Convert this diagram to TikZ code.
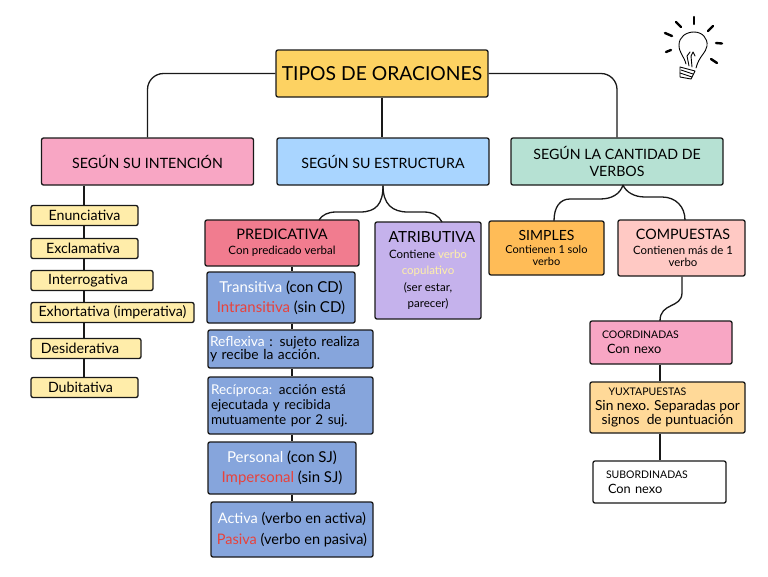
\documentclass[tikz,border=0pt]{standalone}
\usepackage{fontspec}
\setmainfont{Lato}
\usetikzlibrary{positioning,calc}
\definecolor{titleyellow}{HTML}{FDD262}
\definecolor{softpink}{HTML}{F8A6C4}
\definecolor{softblue}{HTML}{A9D5FF}
\definecolor{softgreen}{HTML}{B6E1D3}
\definecolor{cream}{HTML}{FFEDAA}
\definecolor{softred}{HTML}{F17C8F}
\definecolor{lilac}{HTML}{C5B2EC}
\definecolor{periwinkle}{HTML}{86A5DC}
\definecolor{softorange}{HTML}{FFBC57}
\definecolor{rose}{HTML}{FFC9C4}
\definecolor{sand}{HTML}{FFD998}
\definecolor{redtext}{HTML}{E8423B}
\definecolor{paleyellow}{HTML}{FFF0A8}
\newcommand{\fs}[1]{\fontsize{#1}{#1}\selectfont}
\tikzset{
  box/.style={draw=black!90, line width=1.3pt, rounded corners=2pt, inner sep=0pt, align=center},
  link/.style={draw=black!90, line width=1.3pt},
  listbox/.style={box, fill=cream, minimum height=20pt, font=\fs{14.2}},
  headbox/.style={box, minimum width=212pt, minimum height=47pt, font=\fs{14.2}},
  bluebox/.style={box, fill=periwinkle, font=\fs{15}}
}
\begin{document}
\begin{tikzpicture}[x=1pt,y=-1pt]
\useasboundingbox (0,0) rectangle (768,576);

% --- top level -------------------------------------------------------
\node (title) [box, fill=titleyellow, minimum width=212pt, minimum height=47pt, font=\fs{19.3}] at (382,73.5) {TIPOS DE ORACIONES};
\node (intencion) [headbox, fill=softpink] at (147.5,161.5) {SEGÚN SU INTENCIÓN};
\node (estructura) [headbox, fill=softblue] at (383,161.5) {SEGÚN SU ESTRUCTURA};
\node (cantidad) [headbox, fill=softgreen] at (617,161.5) {SEGÚN LA CANTIDAD DE\\[3pt]VERBOS};

% --- left list -------------------------------------------------------
\node (enun) [listbox, minimum width=107pt] at (84.5,215.5) {Enunciativa};
\node (excl) [listbox, minimum width=107pt] at (84.5,248.5) {\hspace*{-3pt}Exclamativa};
\node (inte) [listbox, minimum width=122pt] at (92,280.5) {\hspace*{-8pt}Interrogativa};
\node (exho) [listbox, minimum width=163pt] at (112.5,312.5) {Exhortativa (imperativa)};
\node (desi) [listbox, minimum width=110pt] at (86,348.5) {\hspace*{-12pt}Desiderativa};
\node (dubi) [listbox, minimum width=107pt] at (84.5,387.5) {\hspace*{-8pt}Dubitativa};

% --- middle column ---------------------------------------------------
\node (pred) [box, fill=softred, minimum width=154pt, minimum height=46pt] at (282,243)
  {{\fs{14.5}PREDICATIVA}\\[3pt]{\fs{11.5}Con predicado verbal}};
\node (atri) [box, fill=lilac, minimum width=106pt, minimum height=97pt, font=\fs{11.5}] at (428,270.5)
  {\hspace*{8pt}{\fs{15.3}ATRIBUTIVA}\\[4pt]Contiene \textcolor{paleyellow}{verbo}\\[5pt]\textcolor{paleyellow}{copulativo}\\[5pt](ser estar,\\[5pt]parecer)};
\node (tran) [bluebox, minimum width=148pt, minimum height=51pt] at (281,297.5)
  {\textcolor{white}{Transitiva} (con CD)\\[5pt]\textcolor{redtext}{Intransitiva} (sin CD)};
\node (refl) [box, fill=periwinkle, minimum width=165pt, minimum height=38pt, font=\fs{13.8}, text width=161pt, align=left] at (290.5,349)
  {\textcolor{white}{Reflexiva} : sujeto realiza\\[0pt]y recibe la acción.\\[-3pt]};
\node (reci) [box, fill=periwinkle, minimum width=165pt, minimum height=57pt, font=\fs{13.5}, text width=159pt, align=left] at (290.5,405.5)
  {\textcolor{white}{Recíproca:} acción está\\[1.5pt]ejecutada y recibida\\[1.5pt]mutuamente por 2 suj.};
\node (pers) [bluebox, minimum width=148pt, minimum height=52pt] at (282,468)
  {\textcolor{white}{Personal} (con SJ)\\[5pt]\textcolor{redtext}{Impersonal} (sin SJ)};
\node (acti) [bluebox, minimum width=162pt, minimum height=55pt, font=\fs{14.5}] at (292,529.5)
  {\textcolor{white}{Activa} (verbo en activa)\\[6pt]\textcolor{redtext}{Pasiva} (verbo en pasiva)};

% --- right column ----------------------------------------------------
\node (simp) [box, fill=softorange, minimum width=115pt, minimum height=54pt, font=\fs{11}] at (546.5,248)
  {{\fs{14}SIMPLES}\\[2pt]Contienen 1 solo\\[1pt]verbo};
\node (comp) [box, fill=rose, minimum width=127pt, minimum height=56pt, font=\fs{11.4}] at (681.5,248)
  {\hspace*{3pt}{\fs{14.3}COMPUESTAS}\\[3pt]\hspace*{3pt}Contienen más de 1\\[1pt]\hspace*{3pt}verbo};
\node (coor) [box, fill=softpink, minimum width=142pt, minimum height=43pt, text width=118pt, align=left, font=\fs{12.8}] at (661,342.5)
  {{\fs{10.5}COORDINADAS}\\[2pt]\hspace*{5pt}Con nexo};
\node (yuxt) [box, fill=sand, minimum width=155pt, minimum height=51pt, font=\fs{13.8}] at (667.5,407.5)
  {\hspace*{-40pt}{\fs{10.5}YUXTAPUESTAS}\\[1pt]Sin nexo. Separadas por\\[1pt]signos\ \ de puntuación};
\node (subo) [box, fill=white, minimum width=133pt, minimum height=42pt, text width=107pt, align=left, font=\fs{12.8}] at (659.5,482)
  {{\fs{10.5}SUBORDINADAS}\\[2pt]\hspace*{2pt}Con nexo};

% --- anchors for the connectors --------------------------------------
\coordinate (leftline) at (84,185);
\coordinate (midline) at (292,266);
\coordinate (rightline) at (660,364);
\coordinate (predin) at (319,220);
\coordinate (atriin) at (442,222);
\coordinate (cantout) at (623,185);
\coordinate (simpin) at (554,221);
\coordinate (compin) at (685,220);

% --- connectors ------------------------------------------------------
\draw[link, rounded corners=16pt] (title.west) -| (intencion.north);
\draw[link, rounded corners=16pt] (title.east) -| (cantidad.north);
\draw[link] (title.south) -- (title.south |- estructura.north);
\draw[link] (estructura.south) .. controls (383,204) and (376,212) .. (360,212) -- (336,212) .. controls (328,212) and (322,215) .. (predin);
\draw[link] (estructura.south) .. controls (383,204) and (392,212) .. (408,212) -- (424,212) .. controls (433,212) and (439,216) .. (atriin);
\draw[link] (cantout) .. controls (620,194) and (612,199) .. (600,199) -- (570,199) .. controls (560,199) and (554,207) .. (simpin);
\draw[link] (cantout) .. controls (626,192) and (634,197) .. (645,197) -- (662,197) .. controls (676,197) and (685,207) .. (compin);
\draw[link] (comp.south -| compin) ++(-3,0) -- ++(0,16) .. controls ++(0,16) and (660,302) .. (660,321);

\foreach \a/\b in {intencion/enun,enun/excl,excl/inte,inte/exho,exho/desi,desi/dubi}{
  \draw[link] (\a.south -| leftline) -- (\b.north -| leftline);
}
\foreach \a/\b in {pred/tran,tran/refl,refl/reci,reci/pers,pers/acti}{
  \draw[link] (\a.south -| midline) -- (\b.north -| midline);
}
\foreach \a/\b in {coor/yuxt,yuxt/subo}{
  \draw[link] (\a.south -| rightline) -- (\b.north -| rightline);
}

% --- bulb ------------------------------------------------------------
\begin{scope}[line width=0.9pt, line cap=round, line join=round]
  \foreach \x/\y/\u/\v in {694/17/694/24,676/22/681/27,713/26/708/31,665/33/672/36,716/43/722/43.5,666/52/671/50,711/59/717/63}{
    \draw[line width=2.4pt] (\x,\y) -- (\u,\v);
  }
  \draw (686,64) .. controls (684,56) and (679,53) .. (679,45) .. controls (679,37) and (686,32) .. (694,32) .. controls (702,32) and (708,38) .. (707,46) .. controls (706,53) and (699,56) .. (696,68);
  \draw (680,67) -- (695,71) -- (691,79) -- (680,77) -- cycle;
  \draw (681,70) -- (693,74);
  \draw (680,73) -- (692,77);
  \draw (689,66) -- (687,56) -- (690,52);
  \draw (692,67) -- (691,56) -- (693,52) -- (695,56);
\end{scope}
\end{tikzpicture}
\end{document}
